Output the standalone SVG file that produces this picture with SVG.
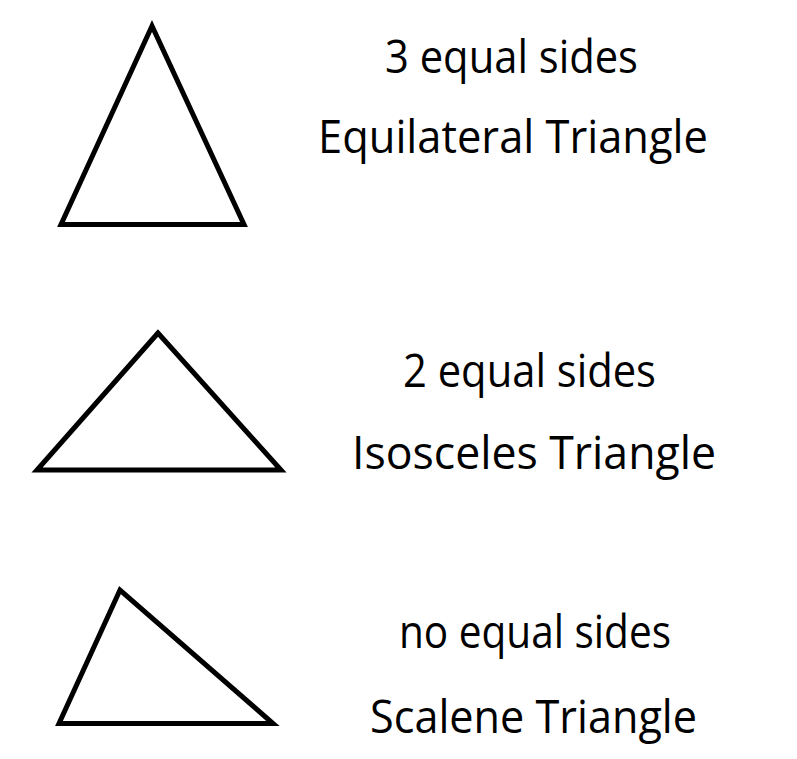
<svg xmlns="http://www.w3.org/2000/svg" width="797" height="759" viewBox="0 0 797 759">
<style>
.tri{fill:#fff;stroke:#000;stroke-width:5;stroke-linejoin:miter;stroke-miterlimit:10}
.lbl{font-family:"Open Sans","Noto Sans","DejaVu Sans",sans-serif;font-size:45px;fill:#000}
</style>
<rect width="797" height="759" fill="#fff"/>
<g id="equilateral">
<polygon class="tri" points="152,26 61,224.5 244,224.5"/>
<text class="lbl" x="385" y="73" textLength="253" lengthAdjust="spacingAndGlyphs">3 equal sides</text>
<text class="lbl" x="318" y="153" textLength="390" lengthAdjust="spacingAndGlyphs">Equilateral Triangle</text>
</g>
<g id="isosceles">
<polygon class="tri" points="158,333 37,470 281,470"/>
<text class="lbl" x="403" y="387" textLength="253" lengthAdjust="spacingAndGlyphs">2 equal sides</text>
<text class="lbl" x="352" y="469" textLength="364" lengthAdjust="spacingAndGlyphs">Isosceles Triangle</text>
</g>
<g id="scalene">
<polygon class="tri" points="120,590 59,723.5 273,723.5"/>
<text class="lbl" x="399" y="648" textLength="272" lengthAdjust="spacingAndGlyphs">no equal sides</text>
<text class="lbl" x="370" y="733" textLength="327" lengthAdjust="spacingAndGlyphs">Scalene Triangle</text>
</g>
<g id="connectors"/>
</svg>
